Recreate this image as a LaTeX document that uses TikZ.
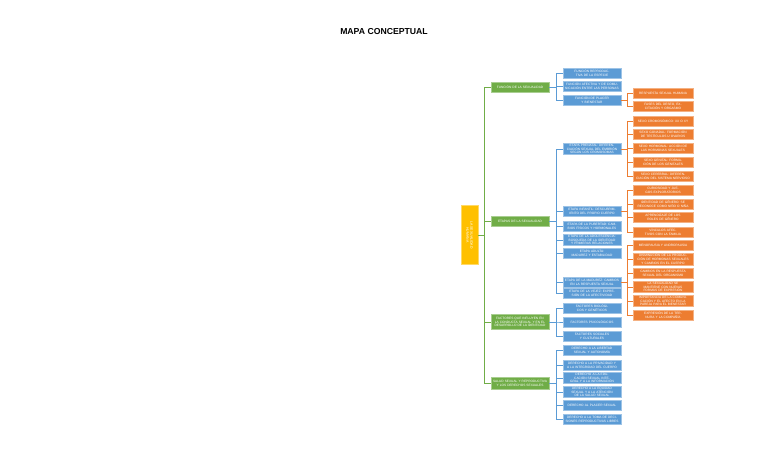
\documentclass[tikz,border=0pt]{standalone}
\usepackage{fontspec}
\setmainfont{Liberation Sans}
\definecolor{gr}{HTML}{70AD47}
\definecolor{bl}{HTML}{5B9BD5}
\definecolor{og}{HTML}{ED7D31}
\definecolor{ye}{HTML}{FFC000}
\tikzset{
 base/.style={text=white,font=\fontsize{2.4}{2.9}\selectfont,align=center,inner sep=0.5pt,minimum height=7.5pt},
 gbox/.style={base,fill=gr,draw=gr!60,text width=41pt,minimum width=43.5pt},
 bbox/.style={base,fill=bl,draw=bl!60,text width=41pt,minimum width=43.5pt},
 obox/.style={base,fill=og,draw=og!60,text width=42pt,minimum width=45pt},
 gl/.style={gr,line width=0.7pt},
 bll/.style={bl,line width=0.7pt},
 ol/.style={og,line width=0.7pt}
}
\begin{document}
\begin{tikzpicture}[x=0.75pt,y=-0.75pt]
\useasboundingbox (0,0) rectangle (768,466);
\node[font=\bfseries\fontsize{6.5}{7}\selectfont] (title) at (384,32) {MAPA CONCEPTUAL};
\node[fill=ye,draw=ye!60,minimum width=13pt,minimum height=44pt,inner sep=0pt] (root) at (469.5,235) {};
\node[rotate=-90,text=white,font=\fontsize{2.6}{3}\selectfont,align=center] (rt) at (469.5,235) {LA SEXUALIDAD\\HUMANA};
% green
\node[gbox] (g1) at (520,87) {FUNCIÓN DE LA SEXUALIDAD};
\node[gbox] (g2) at (520,221) {ETAPAS DE LA SEXUALIDAD};
\node[gbox,minimum height=11pt] (g3) at (520,322) {FACTORES QUE INFLUYEN EN LA CONDUCTA SEXUAL Y EN EL DESARROLLO DE LA IDENTIDAD};
\node[gbox,minimum height=9pt] (g4) at (520,383) {SALUD SEXUAL Y REPRODUCTIVA Y LOS DERECHOS SEXUALES};
\foreach \g in {g1,g2,g3,g4}{\draw[gl] (root.east) -- ++(6,0) |- (\g.west);}
% blue
\foreach \n/\y/\t/\p in {
 b1/73/{FUNCIÓN REPRODUCTIVA DE LA ESPECIE}/g1,
 b2/86/{FUNCIÓN AFECTIVA Y DE COMUNICACIÓN ENTRE LAS PERSONAS}/g1,
 b3/100/{FUNCIÓN DE PLACER Y BIENESTAR}/g1,
 b4/149/{ETAPA PRENATAL: DIFERENCIACIÓN SEXUAL DEL EMBRIÓN SEGÚN LOS CROMOSOMAS}/g2,
 b5/211/{ETAPA INFANTIL: DESCUBRIMIENTO DEL PROPIO CUERPO}/g2,
 b6/226/{ETAPA DE LA PUBERTAD: CAMBIOS FÍSICOS Y HORMONALES}/g2,
 b7/240/{ETAPA DE LA ADOLESCENCIA: BÚSQUEDA DE LA IDENTIDAD Y PRIMERAS RELACIONES}/g2,
 b8/253/{ETAPA ADULTA: MADUREZ Y ESTABILIDAD}/g2,
 b9/282/{ETAPA DE LA MADUREZ: CAMBIOS EN LA RESPUESTA SEXUAL}/g2,
 b10/293/{ETAPA DE LA VEJEZ: EXPRESIÓN DE LA AFECTIVIDAD}/g2,
 b11/308/{FACTORES BIOLÓGICOS Y GENÉTICOS}/g3,
 b12/322/{FACTORES PSICOLÓGICOS}/g3,
 b13/336/{FACTORES SOCIALES Y CULTURALES}/g3,
 b14/350/{DERECHO A LA LIBERTAD SEXUAL Y AUTONOMÍA}/g4,
 b15/365/{DERECHO A LA PRIVACIDAD Y A LA INTEGRIDAD DEL CUERPO}/g4,
 b16/378/{DERECHO A LA EDUCACIÓN SEXUAL INTEGRAL Y A LA INFORMACIÓN}/g4,
 b17/392/{DERECHO A LA EQUIDAD SEXUAL Y A LA ATENCIÓN DE LA SALUD SEXUAL}/g4,
 b18/405/{DERECHO AL PLACER SEXUAL}/g4,
 b19/419/{DERECHO A LA TOMA DE DECISIONES REPRODUCTIVAS LIBRES}/g4}{
 \node[bbox] (\n) at (592,\y) {\t};
 \draw[bll] (\p.east) -- ++(7,0) |- (\n.west);
}
% orange
\foreach \n/\y/\t/\p in {
 o1/93/{RESPUESTA SEXUAL HUMANA}/b3,
 o2/106/{FASES DEL DESEO, EXCITACIÓN Y ORGASMO}/b3,
 o3/121/{SEXO CROMOSÓMICO: XX O XY}/b4,
 o4/134/{SEXO GONADAL: FORMACIÓN DE TESTÍCULOS U OVARIOS}/b4,
 o5/148/{SEXO HORMONAL: ACCIÓN DE LAS HORMONAS SEXUALES}/b4,
 o6/162/{SEXO GENITAL: FORMACIÓN DE LOS GENITALES}/b4,
 o7/176/{SEXO CEREBRAL: DIFERENCIACIÓN DEL SISTEMA NERVIOSO}/b4,
 o8/190/{CURIOSIDAD Y JUEGOS EXPLORATORIOS}/b5,
 o9/204/{IDENTIDAD DE GÉNERO: SE RECONOCE COMO NIÑO O NIÑA}/b5,
 o10/217/{APRENDIZAJE DE LOS ROLES DE GÉNERO}/b5,
 o11/232/{VÍNCULOS AFECTIVOS CON LA FAMILIA}/b5,
 o12/245/{MENOPAUSIA Y ANDROPAUSIA}/b9,
 o13/259/{DISMINUCIÓN DE LA PRODUCCIÓN DE HORMONAS SEXUALES Y CAMBIOS EN EL CUERPO}/b9,
 o14/273/{CAMBIOS EN LA RESPUESTA SEXUAL DEL ORGANISMO}/b9,
 o15/287/{LA SEXUALIDAD SE MANTIENE CON NUEVAS FORMAS DE EXPRESIÓN}/b9,
 o16/301/{IMPORTANCIA DE LA COMUNICACIÓN Y EL AFECTO EN LA PAREJA PARA EL BIENESTAR}/b9,
 o17/315/{EXPRESIÓN DE LA TERNURA Y LA COMPAÑÍA}/b9}{
 \node[obox] (\n) at (663,\y) {\t};
 \draw[ol] (\p.east) -- ++(6,0) |- (\n.west);
}
\end{tikzpicture}
\end{document}
